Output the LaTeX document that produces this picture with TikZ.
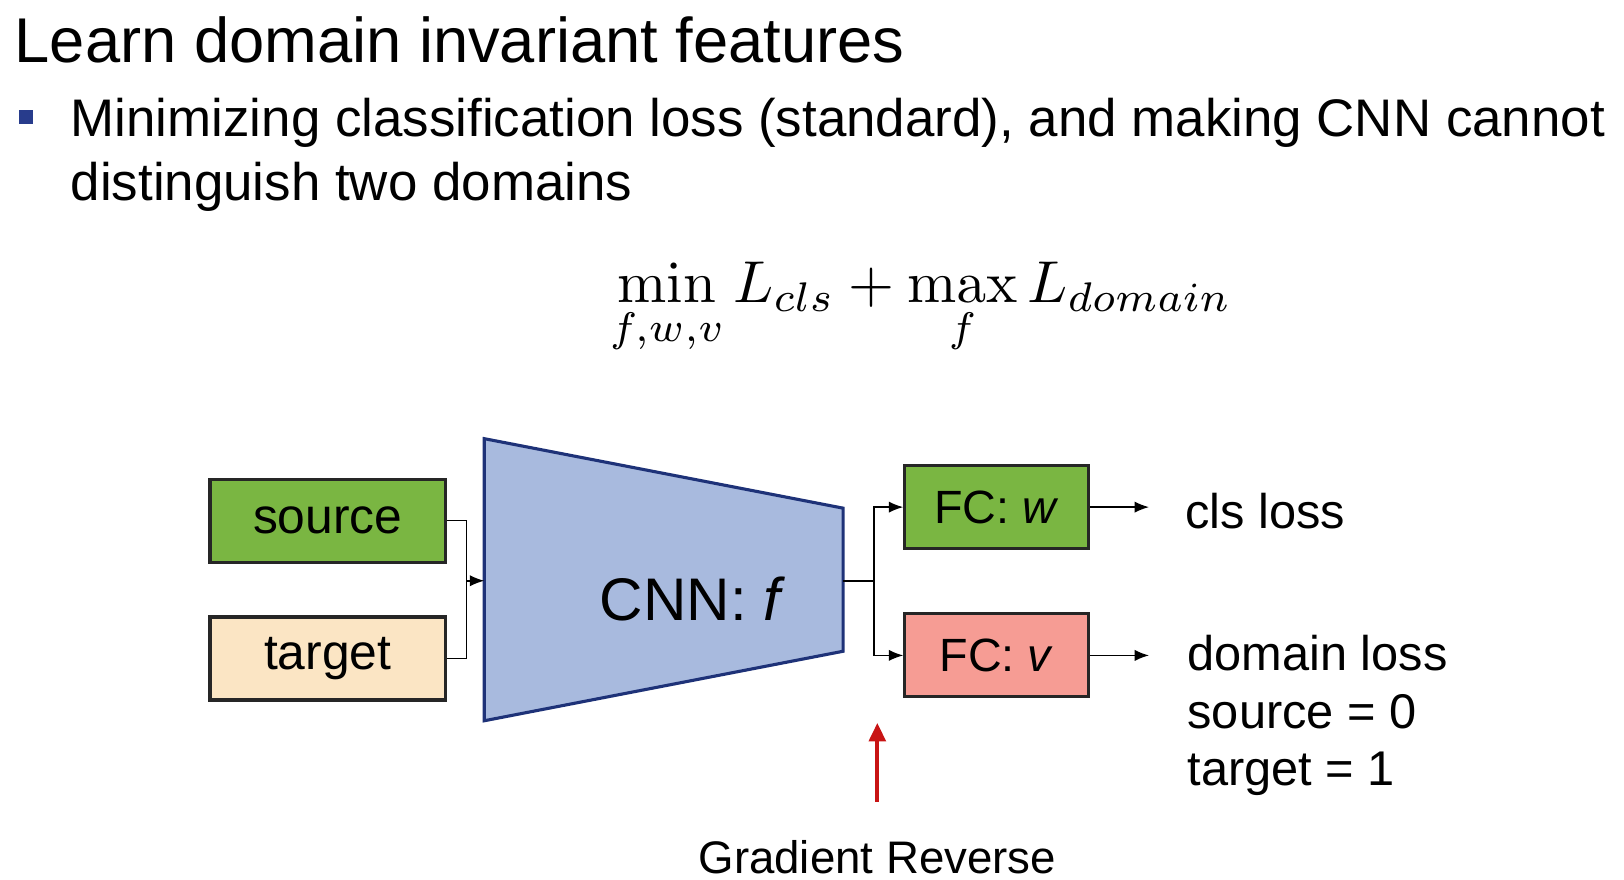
\documentclass[tikz,border=0pt]{standalone}
\usepackage{amsmath}
\usepackage[no-math]{fontspec}
\setmainfont{Liberation Sans}
\usetikzlibrary{arrows.meta}
\begin{document}
\begin{tikzpicture}[x=1pt,y=-1pt,
  box/.style={draw=black!85,line width=3pt,minimum width=227pt,minimum height=80pt,inner sep=0pt},
  fc/.style={draw=black!85,line width=3pt,minimum width=177pt,minimum height=80pt,inner sep=0pt,font=\fontsize{45}{50}\selectfont},
  conn/.style={line width=1.5pt,-{Latex[length=14pt,width=11pt]}},
  plain/.style={line width=1.5pt},
  lbl/.style={anchor=base west,inner sep=0pt,font=\fontsize{47}{52}\selectfont}]
\useasboundingbox (0,0) rectangle (1566,848);
\node[anchor=base west,inner sep=0pt,font=\fontsize{61}{64}\selectfont] (title) at (14,60) {Learn domain invariant features};
\fill[fill={rgb,255:red,40;green,60;blue,140}] (18,106) rectangle (32,120);
\node[anchor=base west,inner sep=0pt,font=\fontsize{51}{54}\selectfont] (b1) at (68,132) {Minimizing classification loss (standard), and making CNN cannot};
\node[anchor=base west,inner sep=0pt,font=\fontsize{51}{54}\selectfont] (b2) at (68,193) {distinguish two domains};
\node[inner sep=0pt,scale=5.7] (eq) at (888,298) {$\displaystyle\min_{f,w,v} L_{cls} + \max_{f} L_{domain}$};
\node[box,fill={rgb,255:red,122;green,182;blue,66},font=\fontsize{48}{54}\selectfont] (src) at (316,502) {source};
\node[box,fill={rgb,255:red,251;green,229;blue,196},font=\fontsize{48}{54}\selectfont] (tgt) at (316,635) {target};
\draw[line width=3pt,draw={rgb,255:red,30;green,50;blue,120},fill={rgb,255:red,168;green,186;blue,222}] (467,423) -- (813,490) -- (813,628) -- (467,695) -- cycle;
\node[font=\fontsize{58}{64}\selectfont] (cnn) at (668,578) {CNN: \textit{f}};
\coordinate (cin) at (467,560);
\coordinate (cout) at (813,560);
\node[fc,fill={rgb,255:red,122;green,182;blue,66}] (fcw) at (961,489) {FC: \textit{w}};
\node[fc,fill={rgb,255:red,246;green,156;blue,148}] (fcv) at (961,632) {FC: \textit{v}};
\draw[plain] (src.east) -- (450,502) |- (tgt.east);
\draw[conn] (450,560) -- (cin);
\draw[plain] (cout) -- (843,560);
\draw[conn] (843,560) |- (fcw.west);
\draw[conn] (843,560) |- (fcv.west);
\coordinate (cl) at (1108,489);
\coordinate (dl) at (1108,632);
\draw[conn] (fcw.east) -- (cl);
\draw[conn] (fcv.east) -- (dl);
\node[lbl] (cls) at (1143,510) {cls loss};
\node[lbl] (dom) at (1145,647) {domain loss};
\node[lbl] (s0) at (1145,702) {source = 0};
\node[lbl] (t1) at (1145,757) {target = 1};
\node[anchor=base,inner sep=0pt,font=\fontsize{44}{50}\selectfont] (gr) at (846,842) {Gradient Reverse};
\coordinate (ra) at (846,773);
\coordinate (rb) at (846,697);
\draw[line width=4pt,draw={rgb,255:red,200;green,20;blue,20},-{Triangle[length=18pt,width=16pt]}] (ra) -- (rb);
\end{tikzpicture}
\end{document}
